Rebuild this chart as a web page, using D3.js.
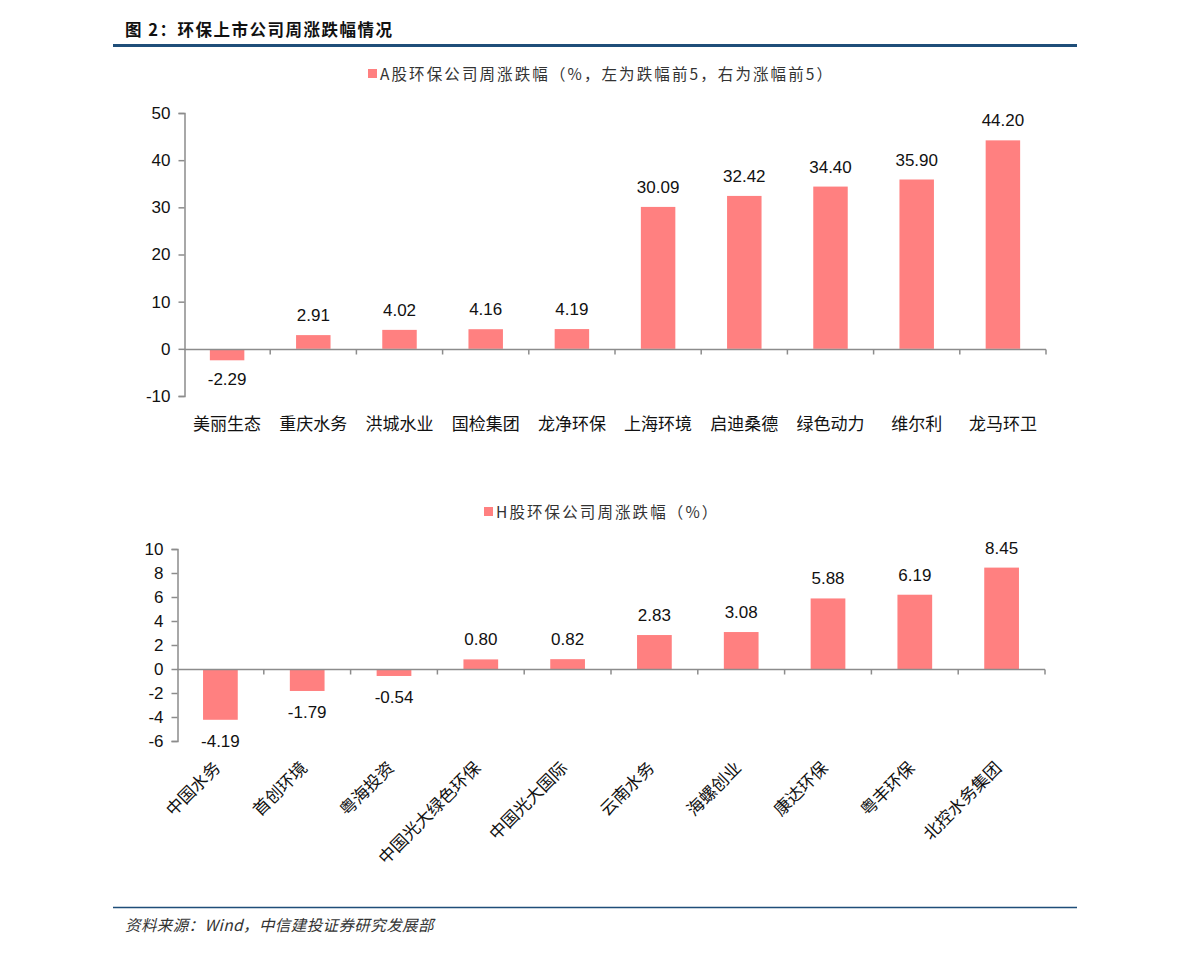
<!DOCTYPE html>
<html>
<head>
<meta charset="utf-8">
<script src="https://cdn.jsdelivr.net/npm/d3@7"></script>
<style>
  body { margin: 0; background: #fff; }
  svg text { font-family: "Liberation Sans", "Noto Sans CJK SC", sans-serif; }
</style>
</head>
<body>
<svg id="plain" width="1191" height="954"></svg>
<script>
var aNames = ["美丽生态", "重庆水务", "洪城水业", "国检集团", "龙净环保", "上海环境", "启迪桑德", "绿色动力", "维尔利", "龙马环卫"];
var aValues = [-2.29, 2.91, 4.02, 4.16, 4.19, 30.09, 32.42, 34.40, 35.90, 44.20];
var aTicks = [-10, 0, 10, 20, 30, 40, 50];

var hNames = ["中国水务", "首创环境", "粤海投资", "中国光大绿色环保", "中国光大国际", "云南水务", "海螺创业", "康达环保", "粤丰环保", "北控水务集团"];
var hValues = [-4.19, -1.79, -0.54, 0.80, 0.82, 2.83, 3.08, 5.88, 6.19, 8.45];
var hTicks = [-6, -4, -2, 0, 2, 4, 6, 8, 10];

var barColor = "#ff8080";
var axisColor = "#8c8c8c";
var cjk = '"Noto Sans CJK SC", sans-serif';

var svg = d3.select("#plain");

// header
svg.append("text")
    .attr("x", 125).attr("y", 36)
    .attr("xml:space", "preserve")
    .style("white-space", "pre")
    .style("font-family", cjk)
    .style("font-size", "16.5px")
    .style("font-weight", "bold")
    .style("letter-spacing", "1.5px")
    .attr("fill", "#111")
    .text("图 2：环保上市公司周涨跌幅情况");
svg.append("line")
    .attr("x1", 113).attr("x2", 1077)
    .attr("y1", 45.5).attr("y2", 45.5)
    .attr("stroke", "#1f4e79").attr("stroke-width", 3);

// footer
svg.append("line")
    .attr("x1", 113).attr("x2", 1077)
    .attr("y1", 907.5).attr("y2", 907.5)
    .attr("stroke", "#1f4e79").attr("stroke-width", 1.5);
svg.append("text")
    .attr("x", 125).attr("y", 931)
    .style("font-family", cjk)
    .style("font-size", "15.5px")
    .style("font-style", "italic")
    .style("letter-spacing", "0.4px")
    .attr("fill", "#333")
    .text("资料来源：Wind，中信建投证券研究发展部");

drawChart({
    names: aNames, values: aValues, ticks: aTicks,
    domain: [-10, 50],
    left: 184, right: 1046, top: 113, bottom: 396,
    legend: "A股环保公司周涨跌幅（%，左为跌幅前5，右为涨幅前5）",
    legendX: 368, legendY: 75,
    negOffset: 25,
    rotate: false
});

drawChart({
    names: hNames, values: hValues, ticks: hTicks,
    domain: [-6, 10],
    left: 177, right: 1045, top: 549, bottom: 741,
    legend: "H股环保公司周涨跌幅（%）",
    legendX: 484, legendY: 513,
    negOffset: 28,
    rotate: true
});

function drawChart(c) {
    var g = svg.append("g");

    var x = d3.scaleBand()
        .domain(c.names)
        .range([c.left, c.right])
        .paddingInner(0.6)
        .paddingOuter(0.3);
    var y = d3.scaleLinear().domain(c.domain).range([c.bottom, c.top]);
    var step = x.step();
    var y0 = Math.round(y(0)) + 0.5;

    // legend
    g.append("rect")
        .attr("x", c.legendX).attr("y", c.legendY - 6)
        .attr("width", 9).attr("height", 9)
        .attr("fill", barColor);
    g.append("text")
        .attr("x", c.legendX + 12).attr("y", c.legendY + 5)
        .style("font-family", cjk)
        .style("font-size", "15.5px")
        .style("letter-spacing", "2.1px")
        .attr("fill", "#333")
        .text(c.legend);

    // bars
    g.selectAll(".bar")
        .data(c.values)
        .enter().append("rect")
        .attr("class", "bar")
        .attr("x", function(d, i) { return x(c.names[i]); })
        .attr("width", x.bandwidth())
        .attr("y", function(d) { return d >= 0 ? y(d) : y0; })
        .attr("height", function(d) { return Math.abs(y(d) - y(0)); })
        .attr("fill", barColor);

    // value labels
    g.selectAll(".val")
        .data(c.values)
        .enter().append("text")
        .attr("class", "val")
        .attr("x", function(d, i) { return x(c.names[i]) + x.bandwidth() / 2; })
        .attr("y", function(d) { return d >= 0 ? y(d) - 14 : y(d) + c.negOffset; })
        .attr("text-anchor", "middle")
        .style("font-size", "17px")
        .attr("fill", "#111")
        .text(function(d) { return d.toFixed(2); });

    // y axis
    var yAxis = d3.axisLeft(y).tickValues(c.ticks).tickSize(6).tickPadding(8)
        .tickFormat(function(d) { return String(d); });
    var ya = g.append("g")
        .attr("transform", "translate(" + (c.left + 0.5) + ",0)")
        .call(yAxis);
    ya.select(".domain").attr("stroke", axisColor).attr("stroke-width", 1.5);
    ya.selectAll(".tick line").attr("stroke", axisColor).attr("stroke-width", 1.5);
    ya.selectAll(".tick text")
        .style("font-size", "17px")
        .style("font-family", '"Liberation Sans", sans-serif')
        .attr("fill", "#111");

    // zero line with category ticks
    g.append("line")
        .attr("x1", c.left).attr("x2", c.right)
        .attr("y1", y0).attr("y2", y0)
        .attr("stroke", axisColor).attr("stroke-width", 1.5);
    g.selectAll(".ctick")
        .data(d3.range(1, c.names.length + 1))
        .enter().append("line")
        .attr("class", "ctick")
        .attr("x1", function(i) { return c.left + i * step; })
        .attr("x2", function(i) { return c.left + i * step; })
        .attr("y1", y0).attr("y2", y0 + 5)
        .attr("stroke", axisColor).attr("stroke-width", 1.5);

    // category labels
    var labels = g.selectAll(".cat")
        .data(c.names)
        .enter().append("text")
        .attr("class", "cat")
        .style("font-family", cjk)
        .style("font-size", "17px")
        .attr("fill", "#111")
        .text(function(d) { return d; });

    if (c.rotate) {
        labels
            .attr("text-anchor", "end")
            .attr("transform", function(d) {
                var cx = x(d) + x.bandwidth() / 2 + 1;
                return "translate(" + cx + "," + (c.bottom + 28) + ") rotate(-45)";
            });
    } else {
        labels
            .attr("text-anchor", "middle")
            .attr("x", function(d) { return x(d) + x.bandwidth() / 2; })
            .attr("y", c.bottom + 34);
    }
}
</script>
</body>
</html>
